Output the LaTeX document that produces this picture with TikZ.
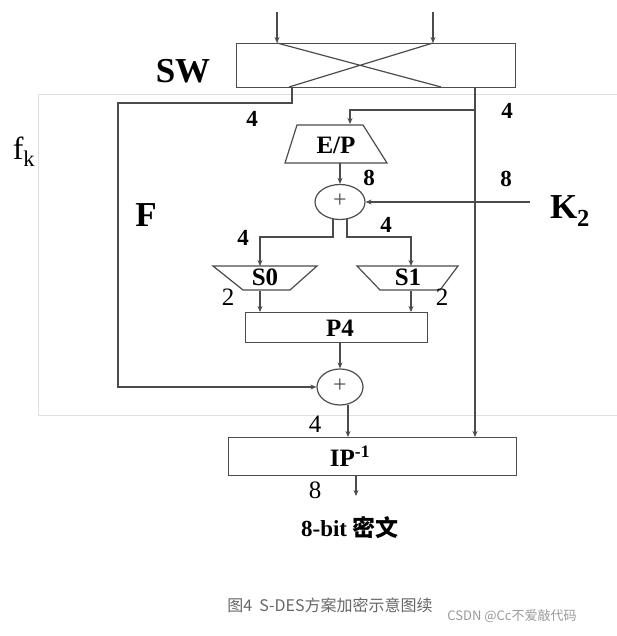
\documentclass[tikz,border=0pt]{standalone}
\usepackage{fontspec}
\usetikzlibrary{arrows.meta,shapes.geometric}
\setmainfont{Liberation Serif}
\newfontfamily\cjk{Noto Sans CJK SC}
\begin{document}
\begin{tikzpicture}[x=1pt,y=-1pt,
  ln/.style={draw=black!70,line width=1.2pt},
  ar/.style={ln,-{Stealth[length=6pt,width=5pt]}},
  lb/.style={font=\bfseries\fontsize{23}{23}\selectfont},
  nl/.style={font=\fontsize{25}{25}\selectfont},
  tx/.style={font=\bfseries\fontsize{25}{25}\selectfont},
  big/.style={font=\bfseries\fontsize{35}{35}\selectfont}]
\useasboundingbox (0,0) rectangle (617,636);
\draw[black!12,line width=1pt] (617,95) -- (38,95) -- (38,415) -- (617,415);
% SW
\node[ln,draw,minimum width=279pt,minimum height=44pt,anchor=north west,inner sep=0] (sw) at (236,43) {};
\coordinate (i1) at (277,12); \coordinate (i2) at (433,12);
\coordinate (t1) at (277,43); \coordinate (t2) at (433,43);
\draw[ar] (i1) -- (t1); \draw[ar] (i2) -- (t2);
\draw[ln] (t1) -- (441,87) (t2) -- (289,87);
\node[big] (swl) at (183,71) {SW};
% EP
\draw[ln] (297,125) -- (363,125) -- (387,163) -- (285,163) -- cycle;
\node[tx] (ept) at (336,145) {E/P};
% xor1
\node[ln,draw,ellipse,minimum width=50pt,minimum height=35pt,inner sep=0] (x1) at (340,202) {};
\node[font=\fontsize{24}{24}\selectfont,text=black!70] (x1t) at (340,201) {+};
\draw[ar] (340,163) -- (x1.north);
\coordinate (k2s) at (530,202);
\draw[ar] (k2s) -- (x1.east);
% S boxes
\draw[ln] (213,266) -- (317,266) -- (290,290) -- (243,290) -- cycle;
\draw[ln] (357,266) -- (458,266) -- (440,290) -- (380,290) -- cycle;
\node[tx] (s0t) at (265,277) {S0};
\node[tx] (s1t) at (408,277) {S1};
\draw[ar] (333,219) -- (333,237) -- (260,237) -- (260,266);
\draw[ar] (347,219) -- (347,237) -- (411,237) -- (411,266);
% P4
\node[ln,draw,minimum width=182pt,minimum height=30pt,anchor=north west,inner sep=0] (p4) at (245,312) {};
\node[tx] (p4t) at (340,328) {P4};
\draw[ar] (260,291) -- (260,312);
\draw[ar] (411,291) -- (411,312);
% xor2
\node[ln,draw,ellipse,minimum width=46pt,minimum height=36pt,inner sep=0] (x2) at (340,387) {};
\node[font=\fontsize{24}{24}\selectfont,text=black!70] (x2t) at (340,386) {+};
\draw[ar] (340,342) -- (x2.north);
% IP
\node[ln,draw,minimum width=288pt,minimum height=38pt,anchor=north west,inner sep=0] (ip) at (228,437) {};
\node[tx] (ipt) at (350,456) {IP\textsuperscript{-1}};
\draw[ar] (348,405) -- (348,437);
\coordinate (out) at (356,496);
\draw[ar] (356,475) -- (out);
% wires
\draw[ar] (292,87) -- (292,103) -- (118,103) -- (118,387) -- (x2.west);
\draw[ar] (475,87) -- (475,437);
\draw[ar] (475,110) -- (350,110) -- (350,124);
% labels
\node[lb] (l1) at (252,119) {4};
\node[lb] (l2) at (507,111) {4};
\node[lb] (l3) at (369,178) {8};
\node[lb] (l4) at (506,179) {8};
\node[lb] (l5) at (243,238) {4};
\node[lb] (l6) at (386,225) {4};
\node[nl] (l7) at (228,297) {2};
\node[nl] (l8) at (442,297) {2};
\node[nl] (l9) at (315,424) {4};
\node[nl] (l10) at (315,490) {8};
\node[big] (k2) at (570,211) {K\textsubscript{2}};
\node[big] (f) at (146,215) {F};
\node[font=\fontsize{32}{32}\selectfont] (fk) at (24,152) {f\textsubscript{k}};
\node[font=\bfseries\fontsize{23}{23}\selectfont] (ct) at (350,528) {8-bit {\cjk\bfseries 密文}};
\node[text=black!60,font=\cjk\fontsize{16}{16}\selectfont] (cap) at (330,605) {图4\ \ S-DES方案加密示意图续};
\node[text=black!40,font=\cjk\fontsize{13}{13}\selectfont] (wm) at (512,616) {CSDN @Cc不爱敲代码};
\end{tikzpicture}
\end{document}
